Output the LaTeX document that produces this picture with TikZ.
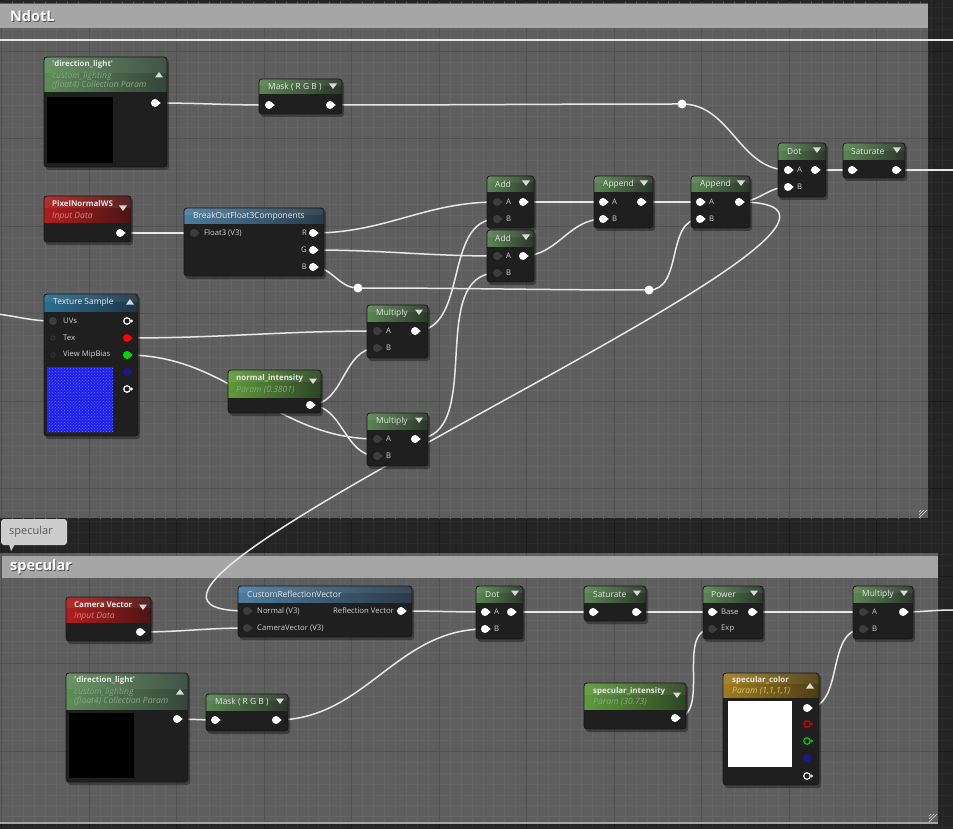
\documentclass[tikz,border=0pt]{standalone}
\usepackage{fontspec}
\setmainfont{Open Sans}
\usetikzlibrary{patterns,fit}
\definecolor{darkbg}{HTML}{242424}
\definecolor{darkminor}{HTML}{2B2B2B}
\definecolor{darkmajor}{HTML}{1B1B1B}
\definecolor{combg}{HTML}{5E5E5E}
\definecolor{comminor}{HTML}{656565}
\definecolor{commajor}{HTML}{525252}
\definecolor{comhead}{HTML}{A6A6A6}
\definecolor{nodebody}{HTML}{1E1F1E}
\definecolor{gL}{HTML}{5B8654}
\definecolor{gR}{HTML}{2B362A}
\definecolor{hgL}{HTML}{5F8C5A}
\definecolor{hgR}{HTML}{34463A}
\definecolor{pL}{HTML}{5E9B3A}
\definecolor{pR}{HTML}{2E4424}
\definecolor{rL}{HTML}{B01E1E}
\definecolor{rR}{HTML}{4A1414}
\definecolor{bL}{HTML}{4C7DA0}
\definecolor{bR}{HTML}{2A3A48}
\definecolor{tL}{HTML}{2A6F92}
\definecolor{tR}{HTML}{1E3446}
\definecolor{yL}{HTML}{A07D1E}
\definecolor{yR}{HTML}{4C3C12}
\definecolor{ttlcol}{HTML}{E8E8E8}
\definecolor{lblcol}{HTML}{D0D0D0}
\definecolor{subgreen}{HTML}{88A883}
\definecolor{subred}{HTML}{D88080}
\definecolor{subgold}{HTML}{D8BE78}
\definecolor{pindim}{HTML}{3C3D3C}
\definecolor{wirecol}{HTML}{E8E8E8}
\definecolor{texblue}{HTML}{1E1EEE}
\definecolor{texlight}{HTML}{7070FF}
\definecolor{darkblue}{HTML}{1A1A8C}
\definecolor{bubble}{HTML}{CDCDCD}
\definecolor{tricol}{HTML}{D8D8D8}
\pgfdeclarelayer{bg}
\pgfdeclarelayer{wires}
\pgfsetlayers{bg,wires,main}
\tikzset{
  wire/.style={draw=wirecol,line width=1.5pt},
  ttl/.style={anchor=west,inner sep=0pt,text=ttlcol,font=\fontsize{8.4}{10}\selectfont},
  ttlb/.style={ttl,font=\fontsize{7.9}{9}\selectfont\bfseries},
  sub/.style={anchor=west,inner sep=0pt,font=\fontsize{8.6}{10}\selectfont\itshape},
  subg/.style={sub,text=subgreen},
  subr/.style={sub,text=subred},
  suby/.style={sub,text=subgold},
  lbl/.style={anchor=west,inner sep=0pt,text=lblcol,font=\fontsize{7.7}{9}\selectfont},
  lblr/.style={lbl,anchor=east},
  pinw/.style={circle,fill=white,inner sep=0pt,minimum size=8pt},
  pind/.style={circle,fill=pindim,inner sep=0pt,minimum size=8pt},
  reroute/.style={circle,fill=white,inner sep=0pt,minimum size=9pt},
  comtitle/.style={anchor=west,inner sep=0pt,font=\fontsize{14.5}{17}\selectfont\bfseries}
}
\newcommand\uebox[8]{%
  \fill[black,opacity=.35,rounded corners=3pt] (#2+1.5,#3+2) rectangle (#4+2,#5+3);
  \begin{scope}
    \clip[rounded corners=3pt] (#2,#3) rectangle (#4,#5);
    \fill[nodebody] (#2,#3) rectangle (#4,#5);
    \shade[left color=#7,right color=#8] (#2,#3) rectangle (#4,#6);
    \fill[white,opacity=.07] (#2,#3) rectangle (#4,{#3+(#6-#3)*0.45});
  \end{scope}
  \draw[rounded corners=3pt,draw=black!90,line width=.8pt] (#2,#3) rectangle (#4,#5);
  \path (#2,#3) coordinate (#1-nw) (#4,#5) coordinate (#1-se);
  \node[inner sep=0pt,fit=(#1-nw)(#1-se)] (#1) {};
}
\newcommand\tridown[2]{\fill[tricol] (#1-4,#2-2.5) -- (#1+4,#2-2.5) -- (#1,#2+3) -- cycle;}
\newcommand\triup[2]{\fill[tricol] (#1-4,#2+2.5) -- (#1+4,#2+2.5) -- (#1,#2-3) -- cycle;}
\newcommand\opin[3]{\node[pinw] (#1) at (#2,#3) {};\fill[white] (#2+3,#3-2.2) -- (#2+5.8,#3) -- (#2+3,#3+2.2) -- cycle;}
\newcommand\dpin[3]{\node[pind] (#1) at (#2,#3) {};\fill[pindim] (#2+3,#3-2.2) -- (#2+5.8,#3) -- (#2+3,#3+2.2) -- cycle;}
\newcommand\rpin[4]{\node[circle,draw=#4,line width=1.2pt,inner sep=0pt,minimum size=6.5pt] (#1) at (#2,#3) {};\fill[#4] (#2+3.8,#3-2) -- (#2+6.2,#3) -- (#2+3.8,#3+2) -- cycle;}
\newcommand\cpin[4]{\node[circle,fill=#4,inner sep=0pt,minimum size=8pt] (#1) at (#2,#3) {};\fill[#4] (#2+3,#3-2.2) -- (#2+5.8,#3) -- (#2+3,#3+2.2) -- cycle;}
\newcommand\gridlines[2]{%
  \foreach \i in {0,...,87}{\draw[#1,line width=.5pt] ({1.5+\i*10.9375},0) -- ({1.5+\i*10.9375},829);}
  \foreach \j in {0,...,79}{\draw[#1,line width=.5pt] (0,{-36.5+\j*10.9375}) -- (953,{-36.5+\j*10.9375});}
  \foreach \i in {0,...,10}{\draw[#2,line width=.6pt] ({1.5+\i*87.5},0) -- ({1.5+\i*87.5},829);}
  \foreach \j in {0,...,10}{\draw[#2,line width=.6pt] (0,{-36.5+\j*87.5}) -- (953,{-36.5+\j*87.5});}
}
\begin{document}
\begin{tikzpicture}[x=1pt,y=-1pt]
\useasboundingbox (0,0) rectangle (953,829);
% ================= background and comments =================
\begin{pgfonlayer}{bg}
  \fill[darkbg] (0,0) rectangle (953,829);
  \begin{scope}\clip (0,0) rectangle (953,829);\gridlines{darkminor}{darkmajor}\end{scope}
  % NdotL comment
  \fill[combg] (0,3) rectangle (928,518);
  \begin{scope}\clip (0,3) rectangle (928,518);\gridlines{comminor}{commajor}\end{scope}
  \fill[comhead] (0,4) rectangle (928,28);
  \node[comtitle,text=black!70] at (10.8,17) {NdotL};
  \node[comtitle,text=white] (tNdotL) at (10,16) {NdotL};
  \foreach \k in {0,3,6}{\draw[white!70!gray,line width=.6pt] (927-\k,510) -- (919,518-\k);}
  % specular bubble
  \fill[bubble,rounded corners=3pt] (1,519) rectangle (67,545);
  \fill[bubble] (9,544) -- (15,544) -- (11,551) -- cycle;
  \node[anchor=west,inner sep=0pt,text=black!65,font=\fontsize{11}{13}\selectfont] (bub) at (9,531.5) {specular};
  % specular comment
  \fill[combg] (0,553) rectangle (938,822);
  \begin{scope}\clip (0,553) rectangle (938,822);\gridlines{comminor}{commajor}\end{scope}
  \fill[comhead] (2,556) rectangle (938,578);
  \node[comtitle,text=black!70] at (10.8,568) {specular};
  \node[comtitle,text=white] (tspec) at (10,567) {specular};
  \foreach \k in {0,3,6}{\draw[white!70!gray,line width=.6pt] (937-\k,814) -- (929,822-\k);}
  \fill[gray!70] (0,822) rectangle (938,824);
\end{pgfonlayer}

% ================= NdotL nodes =================
% direction_light (top)
\uebox{dl1}{44}{57}{167}{167}{92}{hgL}{hgR}
\node[ttlb] at (52,64) {\textquotesingle direction\_light\textquotesingle};
\node[subg] at (52,76) {custom\_lighting};
\node[subg] at (52,85.5) {(float4) Collection Param};
\triup{159}{75}
\fill[black] (47,97) rectangle (113,163);
\opin{dl1-o}{155}{103}
% Mask (RGB)
\uebox{mask1}{259}{79}{342}{114}{94}{gL}{gR}
\node[ttl] at (268,86.5) {Mask ( R G B )};
\tridown{333}{86}
\opin{mask1-i}{269}{105}
\opin{mask1-o}{330}{105}
% PixelNormalWS
\uebox{pn}{44}{196}{131}{242}{223}{rL}{rR}
\node[ttlb] at (52,204) {PixelNormalWS};
\node[subr] at (52,216) {Input Data};
\tridown{123}{208}
\opin{pn-o}{120}{233}
% BreakOutFloat3Components
\uebox{bo}{184}{208}{324}{276}{224}{bL}{bR}
\node[ttl] at (193,216) {BreakOutFloat3Components};
\dpin{bo-f}{194}{233}\node[lbl] at (204,233) {Float3 (V3)};
\opin{bo-r}{313}{233}\node[lblr] at (307,233) {R};
\opin{bo-g}{313}{250}\node[lblr] at (307,250) {G};
\opin{bo-b}{313}{267}\node[lblr] at (307,267) {B};
% Texture Sample
\uebox{ts}{44}{294}{138}{436}{311}{tL}{tR}
\node[ttl] at (53,302.5) {Texture Sample};
\triup{130}{302}
\node[pind] (ts-uv) at (53,321) {};
\node[circle,fill=black!85,draw=pindim,line width=.6pt,inner sep=0pt,minimum size=4.5pt] (ts-ti) at (53,338) {};
\node[circle,fill=black!85,draw=pindim,line width=.6pt,inner sep=0pt,minimum size=4.5pt] (ts-mi) at (53,355) {};
\node[lbl] at (63,321) {UVs};
\node[lbl] at (63,338) {Tex};
\node[lbl] at (63,355) {View MipBias};
\rpin{ts-uvo}{127}{321}{white}
\cpin{ts-tex}{127}{338}{red}
\cpin{ts-mip}{127}{355}{green!85!black}
\cpin{ts-bl}{127}{372}{darkblue}
\rpin{ts-al}{127}{389}{white}
\fill[texblue] (47,367) rectangle (113,432);
\fill[pattern=crosshatch dots,pattern color=texlight] (47,367) rectangle (113,432);
% normal_intensity
\uebox{ni}{228}{370}{321}{413}{397}{pL}{pR}
\node[ttlb] at (236,378) {normal\_intensity};
\node[subg] at (236,390) {Param (0.3801)};
\tridown{313}{381}
\opin{ni-o}{310}{405}
% Multiply (top)
\uebox{mul1}{367}{305}{428}{358}{321}{gL}{gR}
\node[ttl] at (376,313.5) {Multiply};
\tridown{419}{312}
\dpin{mul1-a}{377}{331}\node[lbl] at (386,331) {A};
\dpin{mul1-b}{377}{348}\node[lbl] at (386,348) {B};
\opin{mul1-o}{415}{331}
% Multiply (bottom)
\uebox{mul2}{367}{413}{428}{466}{429}{gL}{gR}
\node[ttl] at (376,421.5) {Multiply};
\tridown{419}{420}
\dpin{mul2-a}{377}{439}\node[lbl] at (386,439) {A};
\dpin{mul2-b}{377}{456}\node[lbl] at (386,456) {B};
\opin{mul2-o}{415}{439}
% Add (top)
\uebox{add1}{487}{176}{534}{228}{192}{gL}{gR}
\node[ttl] at (495,184.5) {Add};
\tridown{526}{183}
\dpin{add1-a}{497}{202}\node[lbl] at (506,202) {A};
\dpin{add1-b}{497}{219}\node[lbl] at (506,219) {B};
\opin{add1-o}{523}{202}
% Add (bottom)
\uebox{add2}{487}{230}{534}{282}{246}{gL}{gR}
\node[ttl] at (495,238.5) {Add};
\tridown{526}{237}
\dpin{add2-a}{497}{256}\node[lbl] at (506,256) {A};
\dpin{add2-b}{497}{273}\node[lbl] at (506,273) {B};
\opin{add2-o}{523}{256}
% Append 1
\uebox{app1}{594}{176}{653}{228}{192}{gL}{gR}
\node[ttl] at (603,184.5) {Append};
\tridown{644}{183}
\opin{app1-a}{603}{202}\node[lbl] at (612,202) {A};
\opin{app1-b}{603}{219}\node[lbl] at (612,219) {B};
\opin{app1-o}{641}{202}
% Append 2
\uebox{app2}{691}{176}{750}{228}{192}{gL}{gR}
\node[ttl] at (700,184.5) {Append};
\tridown{741}{183}
\opin{app2-a}{700}{202}\node[lbl] at (709,202) {A};
\opin{app2-b}{700}{219}\node[lbl] at (709,219) {B};
\opin{app2-o}{739}{202}
% Dot
\uebox{dot1}{778}{143}{826}{197}{160}{gL}{gR}
\node[ttl] at (787,151.5) {Dot};
\tridown{817}{150}
\opin{dot1-a}{788}{170}\node[lbl] at (797,170) {A};
\opin{dot1-b}{788}{187}\node[lbl] at (797,187) {B};
\opin{dot1-o}{815}{170}
% Saturate
\uebox{sat1}{843}{143}{905}{178}{160}{gL}{gR}
\node[ttl] at (851,151.5) {Saturate};
\tridown{897}{150}
\opin{sat1-i}{852}{170}
\opin{sat1-o}{896}{170}
% reroutes
\node[reroute] (rr1) at (682,104) {};
\node[reroute] (rr2) at (358,288) {};
\node[reroute] (rr3) at (649,290) {};

% ================= specular nodes =================
% Camera Vector
\uebox{cam}{66}{597}{151}{641}{622}{rL}{rR}
\node[ttlb] at (74,604.5) {Camera Vector};
\node[subr] at (74,616) {Input Data};
\tridown{143}{607}
\opin{cam-o}{140}{632}
% CustomReflectionVector
\uebox{crv}{238}{586}{412}{637}{602}{bL}{bR}
\node[ttl] at (247,594.5) {CustomReflectionVector};
\dpin{crv-n}{247}{611}\node[lbl] at (257,611) {Normal (V3)};
\dpin{crv-c}{247}{628}\node[lbl] at (257,628) {CameraVector (V3)};
\opin{crv-o}{401}{611}\node[lblr] at (394,611) {Reflection Vector};
% Dot
\uebox{dot2}{476}{586}{523}{639}{602}{gL}{gR}
\node[ttl] at (485,594.5) {Dot};
\tridown{515}{593}
\opin{dot2-a}{485}{612}\node[lbl] at (494,612) {A};
\opin{dot2-b}{485}{629}\node[lbl] at (494,629) {B};
\opin{dot2-o}{511}{612}
% Saturate
\uebox{sat2}{584}{586}{646}{621}{602}{gL}{gR}
\node[ttl] at (593,594.5) {Saturate};
\tridown{637}{593}
\opin{sat2-i}{593}{612}
\opin{sat2-o}{636}{612}
% Power
\uebox{pow}{703}{586}{763}{639}{602}{gL}{gR}
\node[ttl] at (711,594.5) {Power};
\tridown{754}{593}
\opin{pow-b}{712}{612}\node[lbl] at (721,612) {Base};
\dpin{pow-e}{712}{629}\node[lbl] at (721,629) {Exp};
\opin{pow-o}{752}{612}
% Multiply
\uebox{mul3}{853}{586}{913}{639}{602}{gL}{gR}
\node[ttl] at (862,594.5) {Multiply};
\tridown{904}{593}
\dpin{mul3-a}{863}{612}\node[lbl] at (872,612) {A};
\dpin{mul3-b}{863}{629}\node[lbl] at (872,629) {B};
\opin{mul3-o}{903}{612}
% direction_light (specular)
\uebox{dl2}{66}{673}{188}{782}{709}{hgL}{hgR}
\node[ttlb] at (74,680) {\textquotesingle direction\_light\textquotesingle};
\node[subg] at (74,692) {custom\_lighting};
\node[subg] at (74,701.5) {(float4) Collection Param};
\triup{180}{692}
\fill[black] (69,713) rectangle (134,778);
\opin{dl2-o}{177}{719}
% Mask (RGB)
\uebox{mask2}{206}{694}{288}{731}{710}{gL}{gR}
\node[ttl] at (215,702) {Mask ( R G B )};
\tridown{280}{701}
\opin{mask2-i}{215}{720}
\opin{mask2-o}{276}{720}
% specular_intensity
\uebox{si}{584}{683}{686}{729}{709}{pL}{pR}
\node[ttlb] at (593,691) {specular\_intensity};
\node[subg] at (593,702.5) {Param (30.73)};
\tridown{677}{695}
\opin{si-o}{675}{718}
% specular_color
\uebox{sc}{723}{673}{819}{785}{697}{yL}{yR}
\node[ttlb] at (732,680) {specular\_color};
\node[suby] at (732,691) {Param (1,1,1,1)};
\triup{810}{686}
\fill[white] (728,701) rectangle (792,767);
\opin{sc-o}{807}{708}
\rpin{sc-r}{807}{724}{red!85!black}
\rpin{sc-g}{807}{741}{green!80!black}
\cpin{sc-b}{807}{758}{darkblue}
\rpin{sc-a}{807}{776}{white!85!gray}

% free ends
\coordinate (topL) at (0,40);
\coordinate (topR) at (953,40);
\coordinate (uvL) at (-20,313);
\coordinate (satR) at (953,170);
\coordinate (mulR) at (953,610);

% ================= wires =================
\begin{pgfonlayer}{wires}
  \draw[wire] (topL) -- (topR);
  \draw[wire] (uvL) to[out=0,in=180] (ts-uv.center);
  \draw[wire] (dl1-o.center) to[out=0,in=180] (mask1-i.center);
  \draw[wire] (mask1-o.center) to[out=0,in=180] (rr1.center);
  \draw[wire] (rr1.center) to[out=0,in=180] (dot1-a.center);
  \draw[wire] (pn-o.center) to[out=0,in=180] (bo-f.center);
  \draw[wire] (bo-r.center) to[out=0,in=180] (add1-a.center);
  \draw[wire] (bo-g.center) to[out=0,in=180] (add2-a.center);
  \draw[wire] (bo-b.center) to[out=0,in=180] (rr2.center);
  \draw[wire] (rr2.center) to[out=0,in=180] (rr3.center);
  \draw[wire] (rr3.center) to[out=0,in=180] (app2-b.center);
  \draw[wire] (add1-o.center) to[out=0,in=180] (app1-a.center);
  \draw[wire] (add2-o.center) to[out=0,in=180] (app1-b.center);
  \draw[wire] (app1-o.center) to[out=0,in=180] (app2-a.center);
  \draw[wire] (app2-o.center) to[out=0,in=180] (dot1-b.center);
  \draw[wire] (app2-o.center) to[out=0,in=180,out distance=250pt,in distance=250pt] (crv-n.center);
  \draw[wire] (mul1-o.center) to[out=0,in=180] (add1-b.center);
  \draw[wire] (mul2-o.center) to[out=0,in=180] (add2-b.center);
  \draw[wire] (ts-tex.center) to[out=0,in=180] (mul1-a.center);
  \draw[wire] (ts-mip.center) to[out=0,in=180] (mul2-a.center);
  \draw[wire] (ni-o.center) to[out=0,in=180] (mul1-b.center);
  \draw[wire] (ni-o.center) to[out=0,in=180] (mul2-b.center);
  \draw[wire] (dot1-o.center) -- (sat1-i.center);
  \draw[wire] (sat1-o.center) -- (satR);
  \draw[wire] (cam-o.center) to[out=0,in=180] (crv-c.center);
  \draw[wire] (crv-o.center) to[out=0,in=180] (dot2-a.center);
  \draw[wire] (dl2-o.center) to[out=0,in=180] (mask2-i.center);
  \draw[wire] (mask2-o.center) to[out=0,in=180] (dot2-b.center);
  \draw[wire] (dot2-o.center) -- (sat2-i.center);
  \draw[wire] (sat2-o.center) -- (pow-b.center);
  \draw[wire] (si-o.center) to[out=0,in=180] (pow-e.center);
  \draw[wire] (pow-o.center) -- (mul3-a.center);
  \draw[wire] (sc-o.center) to[out=0,in=180] (mul3-b.center);
  \draw[wire] (mul3-o.center) to[out=0,in=180] (mulR);
\end{pgfonlayer}
\end{tikzpicture}
\end{document}
